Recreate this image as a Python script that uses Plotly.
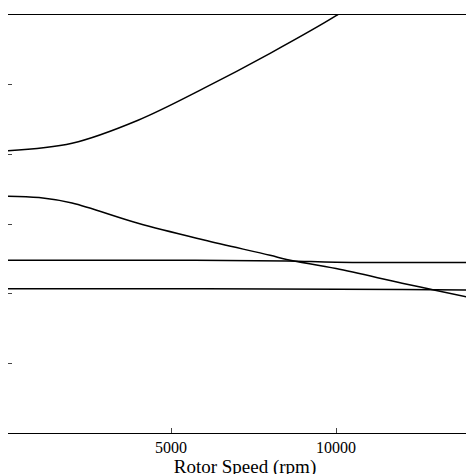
import plotly.graph_objects as go

# rotor speed (rpm) and frequencies
speed_a = [0, 2000, 4000, 6000, 8000, 10000, 10400]
freq_a = [405, 416, 449, 495, 545, 599, 612]

speed_b = [0, 1000, 2000, 4000, 6000, 8000, 8500, 10000, 12000, 13000, 14500]
freq_b = [340, 338, 330, 301, 277, 255, 249, 236, 215, 205, 190]

speed_c = [0, 4000, 8500, 10000, 14500]
freq_c = [248, 248, 247, 245, 245]

speed_d = [0, 6000, 12000, 14500]
freq_d = [207, 207, 206, 205]

fig = go.Figure()
for xs, ys in [(speed_a, freq_a), (speed_b, freq_b), (speed_c, freq_c), (speed_d, freq_d)]:
    fig.add_trace(go.Scatter(x=xs, y=ys, mode="lines", line=dict(color="black", width=1.5, shape="spline"),
                             showlegend=False))

fig.update_layout(
    width=474, height=474, plot_bgcolor="white", paper_bgcolor="white",
    margin=dict(l=0, r=0, t=7, b=49, autoexpand=False),
    font=dict(family="Liberation Serif", size=16, color="black"),
)
fig.update_xaxes(range=[60, 14420], tickvals=[5000, 10000], ticktext=["5000", "10000"],
                 ticks="inside", ticklen=5,
                 showline=True, linecolor="black", linewidth=1, mirror=True, showgrid=False,
                 zeroline=False, title=dict(text="Rotor Speed (rpm)", standoff=0))
fig.update_yaxes(range=[0, 600], tickvals=[100, 200, 300, 400, 500], ticks="inside", ticklen=4,
                 showticklabels=False, showgrid=False, zeroline=False, showline=False)
fig.write_html("out.html")
